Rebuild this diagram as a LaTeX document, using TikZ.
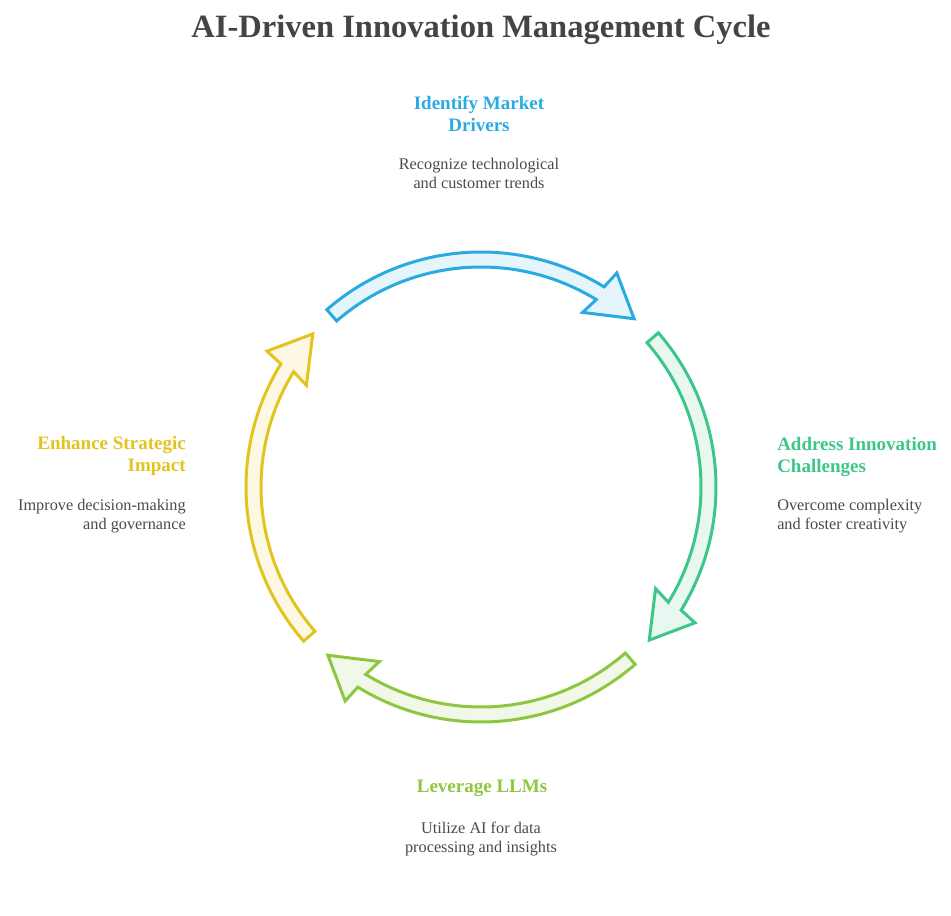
\documentclass[tikz,border=0pt]{standalone}
\usepackage{fontspec}
\setmainfont{Liberation Serif}
\usepackage{xcolor}
\usepackage{tikz}
\definecolor{ttl}{HTML}{444444}
\definecolor{txt}{HTML}{4A4A4A}
\definecolor{blu}{HTML}{29ABE2}
\definecolor{grn}{HTML}{3CC68A}
\definecolor{lim}{HTML}{8DC63F}
\definecolor{ylw}{HTML}{E2C41E}
\tikzset{
  head/.style={font=\fontsize{14.25}{16.5}\selectfont\bfseries, inner sep=0pt},
  desc/.style={font=\fontsize{12.2}{14.25}\selectfont, text=txt, inner sep=0pt},
}

\begin{document}
\begin{tikzpicture}[x=0.75pt, y=0.75pt]
            \useasboundingbox (0,0) rectangle (951,-916);
            \node (title) at (481,-38) [anchor=base, font=\fontsize{24.4}{28}\selectfont\bfseries, text=ttl] {AI-Driven Innovation Management Cycle};

            \begin{scope}[shift={(481,-487)}, line width=2.25pt]
                \foreach \a/\c in {131/blu, 41/grn, -49/lim, -139/ylw} {
                    \draw[draw=\c, fill=\c!12] (\a:235) arc[start angle=\a, end angle=\a-72.6, radius=235]
                        -- (\a-73.4:253.5) -- (\a-83.3:227.5) -- (\a-71.2:202) -- (\a-72.6:220)
                        arc[start angle=\a-72.6, end angle=\a, radius=220] -- cycle;
                }
            \end{scope}

            \node (h1) at (479,-132) [head, text=blu, anchor=base, align=center] {Identify Market\\Drivers};
            \node (b1) at (479,-189) [desc, anchor=base, align=center] {Recognize technological\\and customer trends};
            \node (h2) at (777,-473) [head, text=grn, anchor=base west, align=left] {Address Innovation\\Challenges};
            \node (b2) at (777,-530) [desc, anchor=base west, align=left] {Overcome complexity\\and foster creativity};
            \node (h3) at (482,-792) [head, text=lim, anchor=base] {Leverage LLMs};
            \node (b3) at (481,-852) [desc, anchor=base, align=center] {Utilize AI for data\\processing and insights};
            \node (h4) at (186,-472) [head, text=ylw, anchor=base east, align=right] {Enhance Strategic\\Impact};
            \node (b4) at (186,-530) [desc, anchor=base east, align=right] {Improve decision-making\\and governance};
        \end{tikzpicture}
\end{document}
